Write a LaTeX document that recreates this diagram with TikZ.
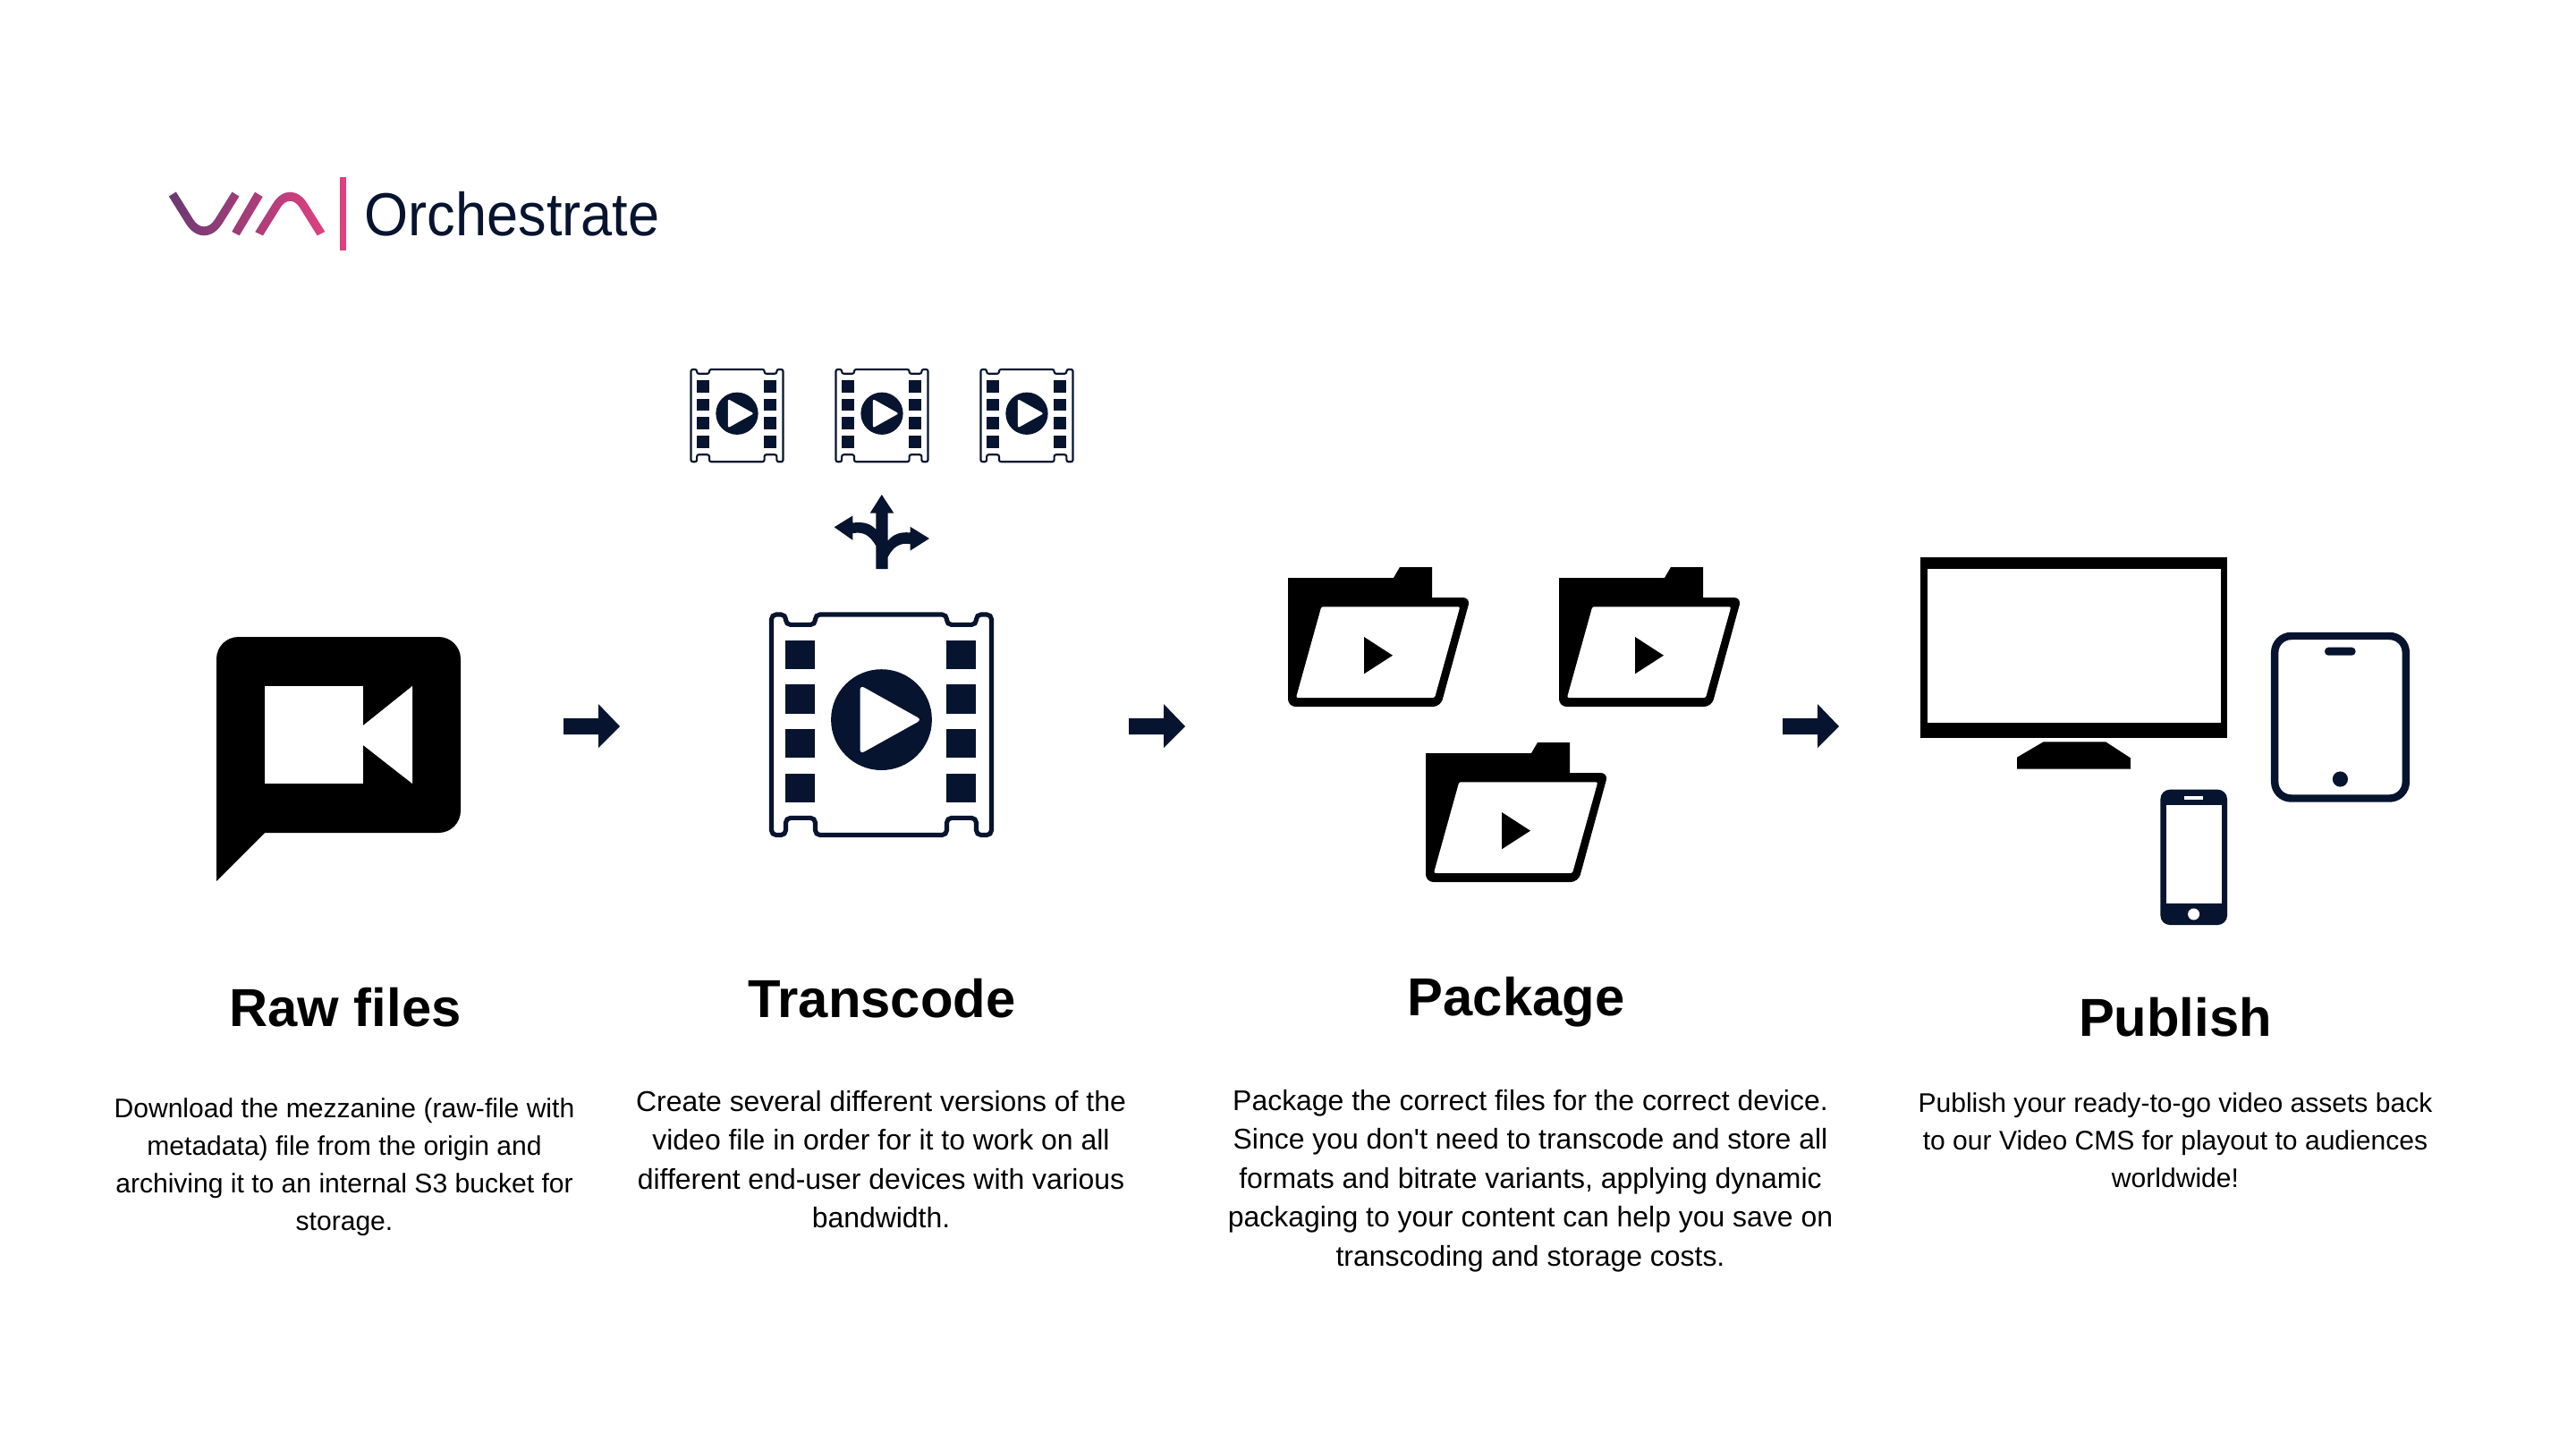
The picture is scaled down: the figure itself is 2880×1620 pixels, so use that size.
\documentclass[tikz,border=0pt]{standalone}
\usepackage{fontspec}
\setmainfont{Liberation Sans}
\usetikzlibrary{positioning}
\definecolor{navy}{HTML}{07142F}
\definecolor{viapink}{HTML}{DF4080}
\definecolor{viapurple}{HTML}{693A72}
\tikzset{
  bodytext/.style={align=center,inner sep=0pt,text=black,font=\fontsize{9.08}{12.4}\selectfont},
  smalltext/.style={align=center,inner sep=0pt,text=black,font=\fontsize{8.55}{11.95}\selectfont},
  headtext/.style={inner sep=0pt,text=black,font=\fontsize{17}{20}\selectfont\bfseries},
  pics/flowarrow/.style={code={
      \fill[navy] (0,-9) -- (39,-9) -- (39,-25) -- (63,0) -- (39,24) -- (39,9) -- (0,9) -- cycle;
  }},
  pics/film/.style={code={
      \pgfmathsetlengthmacro{\filmline}{#1*1.45pt}
      \pgfmathsetlengthmacro{\filmround}{#1*1.5pt}
      \draw[navy,line width=\filmline,rounded corners=\filmround]
        (-123,-123) -- (-107,-123) -- (-107,-111.6) -- (-74,-111.6) -- (-74,-123) -- (73,-123)
        -- (73,-111.6) -- (106,-111.6) -- (106,-123) -- (123,-123) -- (123,123.5) -- (106,123.5)
        -- (106,104.4) -- (73,104.4) -- (73,123.5) -- (-74,123.5) -- (-74,104.4) -- (-107,104.4)
        -- (-107,123.5) -- (-123,123.5) -- cycle;
      \foreach \hole in {-94.5,-44.7,4.7,54.5} {
        \fill[navy] (-108,\hole) rectangle +(33,32.5);
        \fill[navy] (72,\hole) rectangle +(33,32.5);
      }
      \fill[navy] (0,-5.4) circle (56.4);
      \fill[white,rounded corners=\filmround] (-24,-44) -- (45,-5.4) -- (-24,33) -- cycle;
  }},
  pics/folder/.style={code={
      \fill[black] (0,12) -- (118,12) -- (125,0) -- (161,0) -- (161,34)
        [rounded corners=2.4pt] -- (204,34) -- (170.6,156) -- (0,156) [sharp corners] -- cycle;
      \fill[white,rounded corners=.6pt] (37.3,44.3) -- (192.3,44.3) -- (164,146) -- (9,146) -- cycle;
      \fill[black] (85,78) -- (117,98.7) -- (85,119.3) -- cycle;
  }},
}
\begin{document}
\begin{tikzpicture}[x=0.01cm,y=-0.01cm]
  \useasboundingbox (0,0) rectangle (2880,1620);
  \fill[white] (0,0) rectangle (2880,1620);

  % logo
  \begin{scope}
    \clip (188.8,219.5) [rounded corners=11pt] -- (228.15,282.5) [sharp corners] -- (267.5,219.5) -- (259.5,214.5)
      [rounded corners=6.5pt] -- (228.15,264.7) [sharp corners] -- (196.8,214.5) -- cycle
      (285,214.7) -- (293.7,220) -- (267.7,263.3) -- (259.3,259) -- cycle
      (285.3,259.3) [rounded corners=10.2pt] -- (324.3,196.9) [sharp corners] -- (363.3,259) -- (354.7,263.3)
      [rounded corners=5.7pt] -- (324.3,214.8) [sharp corners] -- (294,263.3) -- cycle;
    \shade[left color=viapurple,right color=viapink] (188,214) rectangle (364,264);
  \end{scope}
  \fill[viapink] (380,198.3) rectangle (386.7,280);
  \node[anchor=base west,inner sep=0pt,text=navy,font=\fontsize{19.3}{22}\selectfont,xscale=.93,transform shape] (brand) at (407,263) {Orchestrate};

  % raw files
  \fill[black,rounded corners=7pt] (242,800) -- (242,712) -- (515,712) -- (515,931) -- (400,931) [sharp corners] -- (296,931) -- (242,985) -- cycle;
  \fill[white] (296,767) rectangle (406,876);
  \fill[white] (406,811) -- (461,767) -- (461,876) -- (406,833) -- cycle;
  \pic at (630,812) {flowarrow};
  \node[headtext] (rawhead) at (386,1126) {Raw files};
  \node[smalltext] (rawbody) at (385,1305) {Download the mezzanine (raw-file with\\metadata) file from the origin and\\archiving it to an internal S3 bucket for\\storage.};

  % transcode
  \foreach \filmx in {824,986,1148}
    \pic[scale=.419] at (\filmx,464.5) {film=.419};
  \fill[navy] (979.3,636) -- (979.3,610) .. controls (972,598) and (965,594) .. (953.3,596.2)
    -- (953.3,603.8) -- (932.7,589.3) -- (953.3,576.5) -- (953.3,584.5)
    .. controls (965,583) and (973,585) .. (979.3,592) -- (979.3,573.6) -- (972.7,573.6)
    -- (985.8,553) -- (999.3,573.6) -- (992.7,573.6) -- (992.7,604.5)
    .. controls (998,598) and (1006,594) .. (1017.7,595.5) -- (1017.7,588.9) -- (1039,602)
    -- (1017.7,615.5) -- (1017.7,608.2) .. controls (1006,606) and (998,612) .. (992.7,622.7)
    -- (992.7,636) -- cycle;
  \pic[scale=1] at (985.5,810) {film=1};
  \pic at (1262,812) {flowarrow};
  \node[headtext] (transcodehead) at (986,1116) {Transcode};
  \node[bodytext] (transcodebody) at (985,1296) {Create several different versions of the\\video file in order for it to work on all\\different end-user devices with various\\bandwidth.};

  % package
  \pic at (1440,634) {folder};
  \pic at (1743,634) {folder};
  \pic at (1594,830) {folder};
  \pic at (1993,812) {flowarrow};
  \node[headtext] (packagehead) at (1695,1120) {Package};
  \node[bodytext] (packagebody) at (1711,1320) {Package the correct files for the correct device.\\Since you don\textquotesingle t need to transcode and store all\\formats and bitrate variants, applying dynamic\\packaging to your content can help you save on\\transcoding and storage costs.};

  % publish
  \fill[black] (2147,622.5) rectangle (2490,825);
  \fill[white] (2154.5,636) rectangle (2482.5,807.5);
  \fill[black] (2255,846.7) -- (2284.6,829.3) -- (2354.2,829.3) -- (2381.8,847.3) -- (2381.8,859.7) -- (2255,859.7) -- cycle;
  \draw[navy,line width=2.4pt,rounded corners=5.2pt] (2543.2,711) rectangle (2689.8,892.5);
  \fill[navy,rounded corners=1.2pt] (2599,723.7) rectangle (2633.6,732.7);
  \fill[navy] (2616.4,871) circle (8.6);
  \fill[navy,rounded corners=3pt] (2415.4,882.7) rectangle (2490,1034);
  \fill[white] (2422,900) rectangle (2483.6,1010);
  \fill[white] (2442.2,890) rectangle (2463,893.7);
  \fill[white] (2452.6,1022) circle (6.5);
  \node[headtext] (publishhead) at (2432,1137) {Publish};
  \node[smalltext] (publishbody) at (2432,1275) {Publish your ready-to-go video assets back\\to our Video CMS for playout to audiences\\worldwide!};
\end{tikzpicture}
\end{document}
